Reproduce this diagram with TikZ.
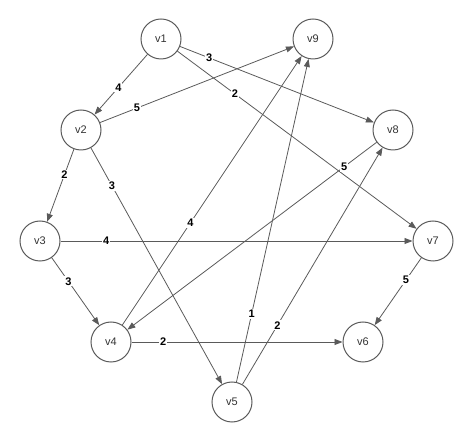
\documentclass[tikz,border=0pt]{standalone}
\usepackage{fontspec}
\setmainfont{Liberation Sans}
\usetikzlibrary{arrows.meta}
\definecolor{edgegray}{HTML}{5A5A5A}
\definecolor{vtxtext}{HTML}{333333}

\begin{document}
\begin{tikzpicture}[x=1pt,y=-1pt,
    vtx/.style={circle,draw=edgegray,line width=1pt,minimum size=40pt,inner sep=0pt,
      text=vtxtext,font=\fontsize{11}{13}\selectfont},
    edge/.style={edgegray,line width=0.8pt,-{Triangle[length=8pt,width=6pt]}},
    wlabel/.style={fill=white,inner sep=1pt,text=black,font=\bfseries\fontsize{11}{13}\selectfont}]
  \useasboundingbox (0,0) rectangle (474,443);
  \foreach \n/\x/\y in {v1/161/39,v9/313/39,v2/81/130,v8/393/130,v3/40/241,
      v7/433/241,v4/111/342,v6/363/342,v5/232/402}
    \node[vtx] (\n) at (\x,\y) {\n};
  \foreach \a/\b/\w/\p in {v1/v2/4/0.55,v1/v8/3/0.15,v1/v7/2/0.24,v2/v9/5/0.19,
      v2/v3/2/0.35,v2/v5/3/0.16,v3/v7/4/0.13,v4/v9/4/0.38,v8/v4/5/0.13,
      v3/v4/3/0.35,v4/v6/2/0.15,v5/v9/1/0.21,v5/v8/2/0.25,v7/v6/5/0.33}
    \draw[edge] (\a) -- node[wlabel,pos=\p] {\w} (\b);
\end{tikzpicture}
\end{document}
